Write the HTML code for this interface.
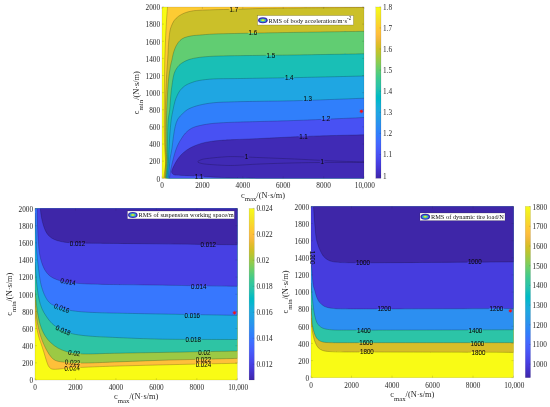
<!DOCTYPE html>
<html><head><meta charset="utf-8"><title>Contour plots</title>
<style>
html,body{margin:0;padding:0;background:#fff;}
svg{display:block;}
text{fill:#262626;}
.tk{font-family:"Liberation Serif",serif;font-size:7.25px;}
.lb{font-family:"Liberation Serif",serif;font-size:8.35px;}
.sb{font-size:6.8px;}
.cl{font-family:"Liberation Sans",sans-serif;font-size:6.9px;fill:#0a0a0a;stroke:#0a0a0a;stroke-width:0.06px;}
.lg{font-family:"Liberation Serif",serif;font-size:7.1px;fill:#111;}
</style></head><body>
<svg width="550" height="407" viewBox="0 0 550 407">
<defs><linearGradient id="pg" x1="0" y1="0" x2="0" y2="1"><stop offset="0.0000" stop-color="#f9fb15"/><stop offset="0.0159" stop-color="#f7f51b"/><stop offset="0.0317" stop-color="#f6ef20"/><stop offset="0.0476" stop-color="#f5e924"/><stop offset="0.0635" stop-color="#f5e327"/><stop offset="0.0794" stop-color="#f7dc2a"/><stop offset="0.0952" stop-color="#fad62d"/><stop offset="0.1111" stop-color="#fccf30"/><stop offset="0.1270" stop-color="#fec934"/><stop offset="0.1429" stop-color="#fec338"/><stop offset="0.1587" stop-color="#febe3c"/><stop offset="0.1746" stop-color="#f8ba3d"/><stop offset="0.1905" stop-color="#f0ba36"/><stop offset="0.2063" stop-color="#e6bb2d"/><stop offset="0.2222" stop-color="#dcbd29"/><stop offset="0.2381" stop-color="#d1bf27"/><stop offset="0.2540" stop-color="#c5c22a"/><stop offset="0.2698" stop-color="#b9c431"/><stop offset="0.2857" stop-color="#abc739"/><stop offset="0.3016" stop-color="#9dc943"/><stop offset="0.3175" stop-color="#8fcb4e"/><stop offset="0.3333" stop-color="#81cc59"/><stop offset="0.3492" stop-color="#72cd64"/><stop offset="0.3651" stop-color="#64cd6f"/><stop offset="0.3810" stop-color="#57cc7a"/><stop offset="0.3968" stop-color="#4acb84"/><stop offset="0.4127" stop-color="#3fca8e"/><stop offset="0.4286" stop-color="#37c897"/><stop offset="0.4444" stop-color="#31c69f"/><stop offset="0.4603" stop-color="#2cc4a7"/><stop offset="0.4762" stop-color="#24c1ae"/><stop offset="0.4921" stop-color="#19bfb6"/><stop offset="0.5079" stop-color="#0bbdbd"/><stop offset="0.5238" stop-color="#02bac3"/><stop offset="0.5397" stop-color="#01b8ca"/><stop offset="0.5556" stop-color="#08b5d0"/><stop offset="0.5714" stop-color="#12b1d6"/><stop offset="0.5873" stop-color="#18addb"/><stop offset="0.6032" stop-color="#1ca9df"/><stop offset="0.6190" stop-color="#20a5e3"/><stop offset="0.6349" stop-color="#23a0e5"/><stop offset="0.6508" stop-color="#259be8"/><stop offset="0.6667" stop-color="#2797eb"/><stop offset="0.6825" stop-color="#2b91ef"/><stop offset="0.6984" stop-color="#2d8cf3"/><stop offset="0.7143" stop-color="#2e87f7"/><stop offset="0.7302" stop-color="#2f81fa"/><stop offset="0.7460" stop-color="#327cfc"/><stop offset="0.7619" stop-color="#3875fe"/><stop offset="0.7778" stop-color="#3e6fff"/><stop offset="0.7937" stop-color="#4269fe"/><stop offset="0.8095" stop-color="#4563fd"/><stop offset="0.8254" stop-color="#465efb"/><stop offset="0.8413" stop-color="#4758f8"/><stop offset="0.8571" stop-color="#4852f4"/><stop offset="0.8730" stop-color="#484df0"/><stop offset="0.8889" stop-color="#4747eb"/><stop offset="0.9048" stop-color="#4741e5"/><stop offset="0.9206" stop-color="#463cde"/><stop offset="0.9365" stop-color="#4537d5"/><stop offset="0.9524" stop-color="#4332cb"/><stop offset="0.9683" stop-color="#422ec0"/><stop offset="0.9841" stop-color="#402ab4"/><stop offset="1.0000" stop-color="#3e26a8"/></linearGradient></defs>
<rect width="550" height="407" fill="#fff"/>
<clipPath id="c1"><rect x="162.00" y="7.00" width="202.00" height="171.30"/></clipPath>
<g clip-path="url(#c1)">
<rect x="157.00" y="2.00" width="212.00" height="181.30" fill="#f9fb15"/>
<path d="M163.70 183.30L163.70 178.30C163.85 177.25 164.32 174.05 164.60 172.00C164.88 169.95 165.25 168.00 165.40 166.00C165.55 164.00 165.60 162.67 165.50 160.00C165.40 157.33 165.00 154.17 164.80 150.00C164.60 145.83 164.40 140.00 164.30 135.00C164.20 130.00 164.20 125.83 164.20 120.00C164.20 114.17 164.25 106.67 164.30 100.00C164.35 93.33 164.42 86.83 164.50 80.00C164.58 73.17 164.63 65.67 164.80 59.00C164.97 52.33 165.23 46.17 165.50 40.00C165.77 33.83 166.07 27.50 166.40 22.00C166.73 16.50 167.32 9.50 167.50 7.00L167.50 2.00L369.00 2.00L369.00 183.30Z" fill="#fdcb33"/>
<path d="M164.60 183.30L164.60 178.30C164.77 176.25 165.40 169.38 165.60 166.00C165.80 162.62 165.82 160.67 165.80 158.00C165.78 155.33 165.60 153.83 165.50 150.00C165.40 146.17 165.25 140.00 165.20 135.00C165.15 130.00 165.13 125.83 165.20 120.00C165.27 114.17 165.42 106.67 165.60 100.00C165.78 93.33 165.95 86.85 166.30 80.00C166.65 73.15 167.33 64.87 167.70 58.90C168.07 52.93 168.17 48.62 168.50 44.20C168.83 39.78 169.25 35.35 169.70 32.40C170.15 29.45 170.47 28.47 171.20 26.50C171.93 24.53 172.87 22.32 174.10 20.60C175.33 18.88 176.87 17.47 178.60 16.20C180.33 14.93 182.30 13.87 184.50 13.00C186.70 12.13 189.35 11.45 191.80 11.00C194.25 10.55 195.52 10.52 199.20 10.30C202.88 10.08 208.02 9.87 213.90 9.70C219.78 9.53 226.82 9.50 234.50 9.30C242.18 9.10 249.08 8.73 260.00 8.50C270.92 8.27 282.63 8.07 300.00 7.90C317.37 7.73 353.50 7.57 364.20 7.50L369.00 7.50L369.00 183.30Z" fill="#cbc029"/>
<path d="M165.40 183.30L165.40 178.30C165.57 176.25 166.20 169.38 166.40 166.00C166.60 162.62 166.62 160.67 166.60 158.00C166.58 155.33 166.37 153.83 166.30 150.00C166.23 146.17 166.18 140.00 166.20 135.00C166.22 130.00 166.23 125.83 166.40 120.00C166.57 114.17 166.85 106.67 167.20 100.00C167.55 93.33 167.95 85.67 168.50 80.00C169.05 74.33 169.93 69.33 170.50 66.00C171.07 62.67 171.48 61.92 171.90 60.00C172.32 58.08 172.50 56.40 173.00 54.50C173.50 52.60 174.22 50.32 174.90 48.60C175.58 46.88 176.25 45.55 177.10 44.20C177.95 42.85 178.77 41.60 180.00 40.50C181.23 39.40 182.53 38.38 184.50 37.60C186.47 36.82 189.35 36.22 191.80 35.80C194.25 35.38 195.52 35.40 199.20 35.10C202.88 34.80 208.02 34.27 213.90 34.00C219.78 33.73 226.82 33.67 234.50 33.50C242.18 33.33 249.08 33.20 260.00 33.00C270.92 32.80 282.63 32.58 300.00 32.30C317.37 32.02 353.50 31.47 364.20 31.30L369.00 31.30L369.00 183.30Z" fill="#61cd72"/>
<path d="M166.20 183.30L166.20 178.30C166.37 176.25 166.98 169.38 167.20 166.00C167.42 162.62 167.47 160.67 167.50 158.00C167.53 155.33 167.38 153.83 167.40 150.00C167.42 146.17 167.47 140.00 167.60 135.00C167.73 130.00 167.85 124.17 168.20 120.00C168.55 115.83 169.25 114.30 169.70 110.00C170.15 105.70 170.45 98.80 170.90 94.20C171.35 89.60 171.87 85.83 172.40 82.40C172.93 78.97 173.32 76.05 174.10 73.60C174.88 71.15 175.87 69.42 177.10 67.70C178.33 65.98 179.53 64.65 181.50 63.30C183.47 61.95 185.95 60.58 188.90 59.60C191.85 58.62 195.03 57.97 199.20 57.40C203.37 56.83 208.02 56.48 213.90 56.20C219.78 55.92 226.82 55.83 234.50 55.70C242.18 55.57 249.08 55.53 260.00 55.40C270.92 55.27 282.63 55.17 300.00 54.90C317.37 54.63 353.50 53.98 364.20 53.80L369.00 53.80L369.00 183.30Z" fill="#19bfb6"/>
<path d="M167.10 183.30L167.10 178.30C167.28 176.25 167.93 169.38 168.20 166.00C168.47 162.62 168.57 160.67 168.70 158.00C168.83 155.33 168.82 153.83 169.00 150.00C169.18 146.17 169.43 140.00 169.80 135.00C170.17 130.00 170.67 124.17 171.20 120.00C171.73 115.83 172.38 113.08 173.00 110.00C173.62 106.92 174.22 103.88 174.90 101.50C175.58 99.12 176.25 97.53 177.10 95.70C177.95 93.87 178.77 92.10 180.00 90.50C181.23 88.90 182.78 87.33 184.50 86.10C186.22 84.87 187.85 84.03 190.30 83.10C192.75 82.17 195.27 81.20 199.20 80.50C203.13 79.80 208.02 79.22 213.90 78.90C219.78 78.58 226.82 78.72 234.50 78.60C242.18 78.48 249.08 78.38 260.00 78.20C270.92 78.02 282.63 77.87 300.00 77.50C317.37 77.13 353.50 76.25 364.20 76.00L369.00 76.00L369.00 183.30Z" fill="#1fa6e2"/>
<path d="M168.20 183.30L168.20 178.30C168.40 176.25 169.07 169.38 169.40 166.00C169.73 162.62 169.78 160.90 170.20 158.00C170.62 155.10 171.37 152.13 171.90 148.60C172.43 145.07 172.85 140.48 173.40 136.80C173.95 133.12 174.47 129.45 175.20 126.50C175.93 123.55 176.50 121.30 177.80 119.10C179.10 116.90 181.15 115.02 183.00 113.30C184.85 111.58 186.20 110.15 188.90 108.80C191.60 107.45 195.03 106.22 199.20 105.20C203.37 104.18 208.02 103.27 213.90 102.70C219.78 102.13 226.82 102.03 234.50 101.80C242.18 101.57 249.08 101.50 260.00 101.30C270.92 101.10 282.63 101.12 300.00 100.60C317.37 100.08 353.50 98.60 364.20 98.20L369.00 98.20L369.00 183.30Z" fill="#307ffb"/>
<path d="M169.50 183.30L169.50 178.30C169.63 177.27 169.92 174.37 170.30 172.10C170.68 169.83 171.25 167.15 171.80 164.70C172.35 162.25 172.93 159.85 173.60 157.40C174.27 154.95 175.02 152.23 175.80 150.00C176.58 147.77 177.35 145.92 178.30 144.00C179.25 142.08 180.30 140.33 181.50 138.50C182.70 136.67 183.83 134.70 185.50 133.00C187.17 131.30 189.08 129.55 191.50 128.30C193.92 127.05 196.27 126.33 200.00 125.50C203.73 124.67 208.15 123.85 213.90 123.30C219.65 122.75 226.82 122.50 234.50 122.20C242.18 121.90 249.08 121.82 260.00 121.50C270.92 121.18 282.63 120.97 300.00 120.30C317.37 119.63 353.50 117.97 364.20 117.50L369.00 117.50L369.00 183.30Z" fill="#4851f3"/>
<path d="M369.00 134.80L364.20 134.80C358.00 134.95 337.70 135.40 327.00 135.70C316.30 136.00 311.17 136.13 300.00 136.60C288.83 137.07 270.92 138.00 260.00 138.50C249.08 139.00 240.95 139.30 234.50 139.60C228.05 139.90 225.22 140.00 221.30 140.30C217.38 140.60 214.22 140.92 211.00 141.40C207.78 141.88 204.92 142.38 202.00 143.20C199.08 144.02 196.08 145.13 193.50 146.30C190.92 147.47 188.55 148.78 186.50 150.20C184.45 151.62 182.75 153.20 181.20 154.80C179.65 156.40 178.33 158.13 177.20 159.80C176.07 161.47 175.18 163.30 174.40 164.80C173.62 166.30 172.97 167.63 172.50 168.80C172.03 169.97 171.60 170.97 171.60 171.80C171.60 172.63 171.93 173.27 172.50 173.80C173.07 174.33 173.42 174.73 175.00 175.00C176.58 175.27 179.17 175.27 182.00 175.40C184.83 175.53 187.92 175.58 192.00 175.80C196.08 176.02 201.62 176.43 206.50 176.70C211.38 176.97 216.63 177.22 221.30 177.40C225.97 177.58 228.88 177.65 234.50 177.80C240.12 177.95 251.58 178.22 255.00 178.30L258.00 183.30L369.00 183.30Z" fill="#402ab5"/>
</g>
<text transform="translate(233.80 10.00) rotate(0.0) scale(0.90 1)" text-anchor="middle" class="cl" y="2.45">1.7</text>
<text transform="translate(252.80 32.80) rotate(0.0) scale(0.90 1)" text-anchor="middle" class="cl" y="2.45">1.6</text>
<text transform="translate(270.80 55.50) rotate(0.0) scale(0.90 1)" text-anchor="middle" class="cl" y="2.45">1.5</text>
<text transform="translate(289.20 77.50) rotate(0.0) scale(0.90 1)" text-anchor="middle" class="cl" y="2.45">1.4</text>
<text transform="translate(307.70 98.80) rotate(0.0) scale(0.90 1)" text-anchor="middle" class="cl" y="2.45">1.3</text>
<text transform="translate(326.00 118.80) rotate(0.0) scale(0.90 1)" text-anchor="middle" class="cl" y="2.45">1.2</text>
<text transform="translate(303.50 136.40) rotate(0.0) scale(0.90 1)" text-anchor="middle" class="cl" y="2.45">1.1</text>
<text transform="translate(246.50 156.50) rotate(0.0) scale(0.90 1)" text-anchor="middle" class="cl" y="2.45">1</text>
<text transform="translate(322.20 161.90) rotate(0.0) scale(0.90 1)" text-anchor="middle" class="cl" y="2.45">1</text>
<text transform="translate(199.00 176.20) rotate(0.0) scale(0.90 1)" text-anchor="middle" class="cl" y="2.45">1.1</text>
<mask id="m1" maskUnits="userSpaceOnUse" x="0" y="0" width="550" height="407"><rect width="550" height="407" fill="#fff"/><rect transform="translate(233.80 10.00) rotate(0.0)" x="-4.92" y="-2.8" width="9.83" height="5.6" fill="#000"/><rect transform="translate(252.80 32.80) rotate(0.0)" x="-4.92" y="-2.8" width="9.83" height="5.6" fill="#000"/><rect transform="translate(270.80 55.50) rotate(0.0)" x="-4.92" y="-2.8" width="9.83" height="5.6" fill="#000"/><rect transform="translate(289.20 77.50) rotate(0.0)" x="-4.92" y="-2.8" width="9.83" height="5.6" fill="#000"/><rect transform="translate(307.70 98.80) rotate(0.0)" x="-4.92" y="-2.8" width="9.83" height="5.6" fill="#000"/><rect transform="translate(326.00 118.80) rotate(0.0)" x="-4.92" y="-2.8" width="9.83" height="5.6" fill="#000"/><rect transform="translate(303.50 136.40) rotate(0.0)" x="-4.92" y="-2.8" width="9.83" height="5.6" fill="#000"/><rect transform="translate(246.50 156.50) rotate(0.0)" x="-2.33" y="-2.8" width="4.65" height="5.6" fill="#000"/><rect transform="translate(322.20 161.90) rotate(0.0)" x="-2.33" y="-2.8" width="4.65" height="5.6" fill="#000"/><rect transform="translate(199.00 176.20) rotate(0.0)" x="-4.92" y="-2.8" width="9.83" height="5.6" fill="#000"/></mask>
<g clip-path="url(#c1)"><g mask="url(#m1)"><path d="M163.70 178.30C163.85 177.25 164.32 174.05 164.60 172.00C164.88 169.95 165.25 168.00 165.40 166.00C165.55 164.00 165.60 162.67 165.50 160.00C165.40 157.33 165.00 154.17 164.80 150.00C164.60 145.83 164.40 140.00 164.30 135.00C164.20 130.00 164.20 125.83 164.20 120.00C164.20 114.17 164.25 106.67 164.30 100.00C164.35 93.33 164.42 86.83 164.50 80.00C164.58 73.17 164.63 65.67 164.80 59.00C164.97 52.33 165.23 46.17 165.50 40.00C165.77 33.83 166.07 27.50 166.40 22.00C166.73 16.50 167.32 9.50 167.50 7.00" stroke="#000" stroke-opacity="0.5" stroke-width="0.4" fill="none"/><path d="M164.60 178.30C164.77 176.25 165.40 169.38 165.60 166.00C165.80 162.62 165.82 160.67 165.80 158.00C165.78 155.33 165.60 153.83 165.50 150.00C165.40 146.17 165.25 140.00 165.20 135.00C165.15 130.00 165.13 125.83 165.20 120.00C165.27 114.17 165.42 106.67 165.60 100.00C165.78 93.33 165.95 86.85 166.30 80.00C166.65 73.15 167.33 64.87 167.70 58.90C168.07 52.93 168.17 48.62 168.50 44.20C168.83 39.78 169.25 35.35 169.70 32.40C170.15 29.45 170.47 28.47 171.20 26.50C171.93 24.53 172.87 22.32 174.10 20.60C175.33 18.88 176.87 17.47 178.60 16.20C180.33 14.93 182.30 13.87 184.50 13.00C186.70 12.13 189.35 11.45 191.80 11.00C194.25 10.55 195.52 10.52 199.20 10.30C202.88 10.08 208.02 9.87 213.90 9.70C219.78 9.53 226.82 9.50 234.50 9.30C242.18 9.10 249.08 8.73 260.00 8.50C270.92 8.27 282.63 8.07 300.00 7.90C317.37 7.73 353.50 7.57 364.20 7.50" stroke="#000" stroke-opacity="0.5" stroke-width="0.4" fill="none"/><path d="M165.40 178.30C165.57 176.25 166.20 169.38 166.40 166.00C166.60 162.62 166.62 160.67 166.60 158.00C166.58 155.33 166.37 153.83 166.30 150.00C166.23 146.17 166.18 140.00 166.20 135.00C166.22 130.00 166.23 125.83 166.40 120.00C166.57 114.17 166.85 106.67 167.20 100.00C167.55 93.33 167.95 85.67 168.50 80.00C169.05 74.33 169.93 69.33 170.50 66.00C171.07 62.67 171.48 61.92 171.90 60.00C172.32 58.08 172.50 56.40 173.00 54.50C173.50 52.60 174.22 50.32 174.90 48.60C175.58 46.88 176.25 45.55 177.10 44.20C177.95 42.85 178.77 41.60 180.00 40.50C181.23 39.40 182.53 38.38 184.50 37.60C186.47 36.82 189.35 36.22 191.80 35.80C194.25 35.38 195.52 35.40 199.20 35.10C202.88 34.80 208.02 34.27 213.90 34.00C219.78 33.73 226.82 33.67 234.50 33.50C242.18 33.33 249.08 33.20 260.00 33.00C270.92 32.80 282.63 32.58 300.00 32.30C317.37 32.02 353.50 31.47 364.20 31.30" stroke="#000" stroke-opacity="0.5" stroke-width="0.4" fill="none"/><path d="M166.20 178.30C166.37 176.25 166.98 169.38 167.20 166.00C167.42 162.62 167.47 160.67 167.50 158.00C167.53 155.33 167.38 153.83 167.40 150.00C167.42 146.17 167.47 140.00 167.60 135.00C167.73 130.00 167.85 124.17 168.20 120.00C168.55 115.83 169.25 114.30 169.70 110.00C170.15 105.70 170.45 98.80 170.90 94.20C171.35 89.60 171.87 85.83 172.40 82.40C172.93 78.97 173.32 76.05 174.10 73.60C174.88 71.15 175.87 69.42 177.10 67.70C178.33 65.98 179.53 64.65 181.50 63.30C183.47 61.95 185.95 60.58 188.90 59.60C191.85 58.62 195.03 57.97 199.20 57.40C203.37 56.83 208.02 56.48 213.90 56.20C219.78 55.92 226.82 55.83 234.50 55.70C242.18 55.57 249.08 55.53 260.00 55.40C270.92 55.27 282.63 55.17 300.00 54.90C317.37 54.63 353.50 53.98 364.20 53.80" stroke="#000" stroke-opacity="0.5" stroke-width="0.4" fill="none"/><path d="M167.10 178.30C167.28 176.25 167.93 169.38 168.20 166.00C168.47 162.62 168.57 160.67 168.70 158.00C168.83 155.33 168.82 153.83 169.00 150.00C169.18 146.17 169.43 140.00 169.80 135.00C170.17 130.00 170.67 124.17 171.20 120.00C171.73 115.83 172.38 113.08 173.00 110.00C173.62 106.92 174.22 103.88 174.90 101.50C175.58 99.12 176.25 97.53 177.10 95.70C177.95 93.87 178.77 92.10 180.00 90.50C181.23 88.90 182.78 87.33 184.50 86.10C186.22 84.87 187.85 84.03 190.30 83.10C192.75 82.17 195.27 81.20 199.20 80.50C203.13 79.80 208.02 79.22 213.90 78.90C219.78 78.58 226.82 78.72 234.50 78.60C242.18 78.48 249.08 78.38 260.00 78.20C270.92 78.02 282.63 77.87 300.00 77.50C317.37 77.13 353.50 76.25 364.20 76.00" stroke="#000" stroke-opacity="0.5" stroke-width="0.4" fill="none"/><path d="M168.20 178.30C168.40 176.25 169.07 169.38 169.40 166.00C169.73 162.62 169.78 160.90 170.20 158.00C170.62 155.10 171.37 152.13 171.90 148.60C172.43 145.07 172.85 140.48 173.40 136.80C173.95 133.12 174.47 129.45 175.20 126.50C175.93 123.55 176.50 121.30 177.80 119.10C179.10 116.90 181.15 115.02 183.00 113.30C184.85 111.58 186.20 110.15 188.90 108.80C191.60 107.45 195.03 106.22 199.20 105.20C203.37 104.18 208.02 103.27 213.90 102.70C219.78 102.13 226.82 102.03 234.50 101.80C242.18 101.57 249.08 101.50 260.00 101.30C270.92 101.10 282.63 101.12 300.00 100.60C317.37 100.08 353.50 98.60 364.20 98.20" stroke="#000" stroke-opacity="0.5" stroke-width="0.4" fill="none"/><path d="M169.50 178.30C169.63 177.27 169.92 174.37 170.30 172.10C170.68 169.83 171.25 167.15 171.80 164.70C172.35 162.25 172.93 159.85 173.60 157.40C174.27 154.95 175.02 152.23 175.80 150.00C176.58 147.77 177.35 145.92 178.30 144.00C179.25 142.08 180.30 140.33 181.50 138.50C182.70 136.67 183.83 134.70 185.50 133.00C187.17 131.30 189.08 129.55 191.50 128.30C193.92 127.05 196.27 126.33 200.00 125.50C203.73 124.67 208.15 123.85 213.90 123.30C219.65 122.75 226.82 122.50 234.50 122.20C242.18 121.90 249.08 121.82 260.00 121.50C270.92 121.18 282.63 120.97 300.00 120.30C317.37 119.63 353.50 117.97 364.20 117.50" stroke="#000" stroke-opacity="0.5" stroke-width="0.4" fill="none"/><path d="M364.20 134.80C358.00 134.95 337.70 135.40 327.00 135.70C316.30 136.00 311.17 136.13 300.00 136.60C288.83 137.07 270.92 138.00 260.00 138.50C249.08 139.00 240.95 139.30 234.50 139.60C228.05 139.90 225.22 140.00 221.30 140.30C217.38 140.60 214.22 140.92 211.00 141.40C207.78 141.88 204.92 142.38 202.00 143.20C199.08 144.02 196.08 145.13 193.50 146.30C190.92 147.47 188.55 148.78 186.50 150.20C184.45 151.62 182.75 153.20 181.20 154.80C179.65 156.40 178.33 158.13 177.20 159.80C176.07 161.47 175.18 163.30 174.40 164.80C173.62 166.30 172.97 167.63 172.50 168.80C172.03 169.97 171.60 170.97 171.60 171.80C171.60 172.63 171.93 173.27 172.50 173.80C173.07 174.33 173.42 174.73 175.00 175.00C176.58 175.27 179.17 175.27 182.00 175.40C184.83 175.53 187.92 175.58 192.00 175.80C196.08 176.02 201.62 176.43 206.50 176.70C211.38 176.97 216.63 177.22 221.30 177.40C225.97 177.58 228.88 177.65 234.50 177.80C240.12 177.95 251.58 178.22 255.00 178.30" stroke="#000" stroke-opacity="0.5" stroke-width="0.4" fill="none"/><path d="M197.70 161.80C197.70 161.22 199.53 160.33 201.00 159.80C202.47 159.27 203.12 159.05 206.50 158.60C209.88 158.15 216.63 157.43 221.30 157.10C225.97 156.77 228.05 156.52 234.50 156.60C240.95 156.68 249.98 157.20 260.00 157.60C270.02 158.00 284.60 158.55 294.60 159.00C304.60 159.45 312.43 159.93 320.00 160.30C327.57 160.67 332.63 160.93 340.00 161.20C347.37 161.47 360.17 161.68 364.20 161.90C368.23 162.12 368.23 162.42 364.20 162.50C360.17 162.58 347.37 162.40 340.00 162.40C332.63 162.40 327.57 162.42 320.00 162.50C312.43 162.58 304.60 162.65 294.60 162.90C284.60 163.15 270.02 163.58 260.00 164.00C249.98 164.42 240.95 165.20 234.50 165.40C228.05 165.60 225.97 165.40 221.30 165.20C216.63 165.00 209.88 164.52 206.50 164.20C203.12 163.88 202.47 163.70 201.00 163.30C199.53 162.90 197.70 162.38 197.70 161.80Z" stroke="#000" stroke-opacity="0.5" stroke-width="0.4" fill="none"/></g></g>
<text x="160.10" y="181.60" text-anchor="end" class="tk">0</text>
<text x="160.10" y="164.47" text-anchor="end" class="tk">200</text>
<text x="160.10" y="147.34" text-anchor="end" class="tk">400</text>
<text x="160.10" y="130.21" text-anchor="end" class="tk">600</text>
<text x="160.10" y="113.08" text-anchor="end" class="tk">800</text>
<text x="160.10" y="95.95" text-anchor="end" class="tk">1000</text>
<text x="160.10" y="78.82" text-anchor="end" class="tk">1200</text>
<text x="160.10" y="61.69" text-anchor="end" class="tk">1400</text>
<text x="160.10" y="44.56" text-anchor="end" class="tk">1600</text>
<text x="160.10" y="27.43" text-anchor="end" class="tk">1800</text>
<text x="160.10" y="10.30" text-anchor="end" class="tk">2000</text>
<text x="162.00" y="188.20" text-anchor="middle" class="tk">0</text>
<text x="202.40" y="188.20" text-anchor="middle" class="tk">2000</text>
<text x="242.80" y="188.20" text-anchor="middle" class="tk">4000</text>
<text x="283.20" y="188.20" text-anchor="middle" class="tk">6000</text>
<text x="323.60" y="188.20" text-anchor="middle" class="tk">8000</text>
<text x="364.80" y="188.20" text-anchor="middle" class="tk">10,000</text>
<path d="M162.00 178.30h2M364.00 178.30h-2M162.00 161.17h2M364.00 161.17h-2M162.00 144.04h2M364.00 144.04h-2M162.00 126.91h2M364.00 126.91h-2M162.00 109.78h2M364.00 109.78h-2M162.00 92.65h2M364.00 92.65h-2M162.00 75.52h2M364.00 75.52h-2M162.00 58.39h2M364.00 58.39h-2M162.00 41.26h2M364.00 41.26h-2M162.00 24.13h2M364.00 24.13h-2M162.00 7.00h2M364.00 7.00h-2M162.00 178.30v-2M162.00 7.00v2M202.40 178.30v-2M202.40 7.00v2M242.80 178.30v-2M242.80 7.00v2M283.20 178.30v-2M283.20 7.00v2M323.60 178.30v-2M323.60 7.00v2M364.00 178.30v-2M364.00 7.00v2" stroke="#222" stroke-opacity="0.35" stroke-width="0.4" fill="none"/>
<rect x="162.00" y="7.00" width="202.00" height="171.30" fill="none" stroke="#222" stroke-opacity="0.25" stroke-width="0.4"/>
<text x="263.00" y="197.60" text-anchor="middle" class="lb">c<tspan class="sb" dy="3.5">max</tspan><tspan dy="-3.5">/(N·s/m)</tspan></text>
<text transform="translate(139.40 92.65) rotate(-90)" text-anchor="middle" class="lb">c<tspan class="sb" dy="3.5">min</tspan><tspan dy="-3.5">/(N·s/m)</tspan></text>
<rect x="375.80" y="7.00" width="5.2" height="171.30" fill="url(#pg)"/>
<rect x="375.80" y="7.00" width="5.2" height="171.30" fill="none" stroke="#222" stroke-opacity="0.25" stroke-width="0.4"/>
<text x="383.10" y="178.55" class="tk">1</text>
<path d="M381.00 175.60h-1.5" stroke="#222" stroke-opacity="0.4" stroke-width="0.4"/>
<text x="383.10" y="157.45" class="tk">1.1</text>
<path d="M381.00 154.50h-1.5" stroke="#222" stroke-opacity="0.4" stroke-width="0.4"/>
<text x="383.10" y="136.35" class="tk">1.2</text>
<path d="M381.00 133.40h-1.5" stroke="#222" stroke-opacity="0.4" stroke-width="0.4"/>
<text x="383.10" y="115.25" class="tk">1.3</text>
<path d="M381.00 112.30h-1.5" stroke="#222" stroke-opacity="0.4" stroke-width="0.4"/>
<text x="383.10" y="94.15" class="tk">1.4</text>
<path d="M381.00 91.20h-1.5" stroke="#222" stroke-opacity="0.4" stroke-width="0.4"/>
<text x="383.10" y="73.05" class="tk">1.5</text>
<path d="M381.00 70.10h-1.5" stroke="#222" stroke-opacity="0.4" stroke-width="0.4"/>
<text x="383.10" y="51.95" class="tk">1.6</text>
<path d="M381.00 49.00h-1.5" stroke="#222" stroke-opacity="0.4" stroke-width="0.4"/>
<text x="383.10" y="30.85" class="tk">1.7</text>
<path d="M381.00 27.90h-1.5" stroke="#222" stroke-opacity="0.4" stroke-width="0.4"/>
<text x="383.10" y="9.75" class="tk">1.8</text>
<path d="M381.00 6.80h-1.5" stroke="#222" stroke-opacity="0.4" stroke-width="0.4"/>
<rect x="257.60" y="15.60" width="95.80" height="9.40" fill="#fff" stroke="#333" stroke-opacity="0.55" stroke-width="0.4"/>
<ellipse cx="262.90" cy="20.30" rx="4.8" ry="2.95" fill="#3a2bb0"/>
<ellipse cx="262.90" cy="20.30" rx="3.4" ry="1.9" fill="#2ea0e0"/>
<ellipse cx="262.90" cy="20.30" rx="2.5" ry="1.3" fill="#5fcf70"/>
<ellipse cx="262.90" cy="20.30" rx="1.5" ry="0.7" fill="#f4e82a"/>
<text transform="translate(268.50 22.75) scale(0.9 1)" class="lg">RMS of body acceleration/m·s<tspan font-size="5.4" dy="-2.9">-2</tspan></text>
<circle cx="361.40" cy="111.30" r="1.35" fill="#f0141e"/>
<path d="M361.40 109.10v4.4M359.20 111.30h4.4M359.90 109.80l3 3M359.90 112.80l3 -3" stroke="#f0141e" stroke-width="0.5" stroke-opacity="0.75"/>
<clipPath id="c2"><rect x="35.00" y="208.50" width="202.30" height="171.50"/></clipPath>
<g clip-path="url(#c2)">
<rect x="30.00" y="203.50" width="212.30" height="181.50" fill="#f9fb15"/>
<path d="M30.00 312.00L35.00 312.00C35.22 314.17 35.72 321.00 36.30 325.00C36.88 329.00 37.68 332.83 38.50 336.00C39.32 339.17 40.32 341.33 41.20 344.00C42.08 346.67 42.97 349.33 43.80 352.00C44.63 354.67 45.47 357.75 46.20 360.00C46.93 362.25 47.48 364.12 48.20 365.50C48.92 366.88 49.53 367.67 50.50 368.30C51.47 368.93 52.02 369.23 54.00 369.30C55.98 369.37 59.03 368.95 62.40 368.70C65.77 368.45 69.78 368.07 74.20 367.80C78.62 367.53 83.02 367.35 88.90 367.10C94.78 366.85 97.98 366.65 109.50 366.30C121.02 365.95 142.92 365.38 158.00 365.00C173.08 364.62 186.78 364.28 200.00 364.00C213.22 363.72 231.08 363.42 237.30 363.30L242.30 363.30L242.30 203.50L30.00 203.50Z" fill="#fec03a"/>
<path d="M30.00 300.00L35.00 300.00C35.17 302.00 35.60 308.17 36.00 312.00C36.40 315.83 36.68 319.17 37.40 323.00C38.12 326.83 39.27 331.50 40.30 335.00C41.33 338.50 42.43 341.27 43.60 344.00C44.77 346.73 46.02 349.20 47.30 351.40C48.58 353.60 49.93 355.68 51.30 357.20C52.67 358.72 53.65 359.70 55.50 360.50C57.35 361.30 59.28 361.58 62.40 362.00C65.52 362.42 69.78 362.83 74.20 363.00C78.62 363.17 83.02 363.13 88.90 363.00C94.78 362.87 97.98 362.63 109.50 362.20C121.02 361.77 142.92 360.88 158.00 360.40C173.08 359.92 186.78 359.63 200.00 359.30C213.22 358.97 231.08 358.55 237.30 358.40L242.30 358.40L242.30 203.50L30.00 203.50Z" fill="#9cc944"/>
<path d="M30.00 290.00L35.00 290.00C35.17 291.67 35.60 296.37 36.00 300.00C36.40 303.63 36.68 307.63 37.40 311.80C38.12 315.97 39.08 321.10 40.30 325.00C41.52 328.90 42.98 332.28 44.70 335.20C46.42 338.12 48.38 340.35 50.60 342.50C52.82 344.65 55.30 346.57 58.00 348.10C60.70 349.63 63.62 350.78 66.80 351.70C69.98 352.62 73.42 353.22 77.10 353.60C80.78 353.98 83.50 354.03 88.90 354.00C94.30 353.97 97.98 353.65 109.50 353.40C121.02 353.15 142.92 352.78 158.00 352.50C173.08 352.22 186.78 351.93 200.00 351.70C213.22 351.47 231.08 351.20 237.30 351.10L242.30 351.10L242.30 203.50L30.00 203.50Z" fill="#2ec4a4"/>
<path d="M30.00 262.00L35.00 262.00C35.20 264.67 35.78 273.33 36.20 278.00C36.62 282.67 37.00 286.33 37.50 290.00C38.00 293.67 38.45 296.87 39.20 300.00C39.95 303.13 40.83 306.10 42.00 308.80C43.17 311.50 44.52 313.73 46.20 316.20C47.88 318.67 49.88 321.52 52.10 323.60C54.32 325.68 56.55 327.12 59.50 328.70C62.45 330.28 66.13 332.00 69.80 333.10C73.47 334.20 77.08 334.72 81.50 335.30C85.92 335.88 91.63 336.28 96.30 336.60C100.97 336.92 102.22 336.88 109.50 337.20C116.78 337.52 129.47 338.15 140.00 338.50C150.53 338.85 156.48 339.13 172.70 339.30C188.92 339.47 226.53 339.47 237.30 339.50L242.30 339.50L242.30 203.50L30.00 203.50Z" fill="#1da8e0"/>
<path d="M30.00 213.00L35.00 213.00C35.13 215.83 35.53 223.83 35.80 230.00C36.07 236.17 36.22 244.22 36.60 250.00C36.98 255.78 37.53 259.78 38.10 264.70C38.67 269.62 39.27 275.32 40.00 279.50C40.73 283.68 41.42 286.58 42.50 289.80C43.58 293.02 45.00 296.40 46.50 298.80C48.00 301.20 49.33 302.73 51.50 304.20C53.67 305.67 56.45 306.58 59.50 307.60C62.55 308.62 66.13 309.60 69.80 310.30C73.47 311.00 77.08 311.42 81.50 311.80C85.92 312.18 91.63 312.40 96.30 312.60C100.97 312.80 100.55 312.80 109.50 313.00C118.45 313.20 134.92 313.52 150.00 313.80C165.08 314.08 185.45 314.45 200.00 314.70C214.55 314.95 231.08 315.20 237.30 315.30L242.30 315.30L242.30 203.50L30.00 203.50Z" fill="#3777fe"/>
<path d="M37.10 203.50L37.10 208.50C37.20 212.00 37.47 223.55 37.70 229.50C37.93 235.45 38.23 240.45 38.50 244.20C38.77 247.95 38.95 249.57 39.30 252.00C39.65 254.43 39.98 256.43 40.60 258.80C41.22 261.17 42.07 263.98 43.00 266.20C43.93 268.42 44.93 270.38 46.20 272.10C47.47 273.82 48.88 275.27 50.60 276.50C52.32 277.73 54.28 278.63 56.50 279.50C58.72 280.37 60.95 281.10 63.90 281.70C66.85 282.30 70.03 282.72 74.20 283.10C78.37 283.48 83.02 283.77 88.90 284.00C94.78 284.23 99.32 284.33 109.50 284.50C119.68 284.67 134.92 284.78 150.00 285.00C165.08 285.22 185.45 285.58 200.00 285.80C214.55 286.02 231.08 286.22 237.30 286.30L242.30 286.30L242.30 203.50Z" fill="#4740e3"/>
<path d="M40.30 203.50L40.30 208.50C40.50 210.03 41.00 214.95 41.50 217.70C42.00 220.45 42.63 222.80 43.30 225.00C43.97 227.20 44.53 229.05 45.50 230.90C46.47 232.75 47.63 234.67 49.10 236.10C50.57 237.53 52.33 238.60 54.30 239.50C56.27 240.40 58.32 240.97 60.90 241.50C63.48 242.03 65.13 242.42 69.80 242.70C74.47 242.98 82.28 243.08 88.90 243.20C95.52 243.32 99.32 243.30 109.50 243.40C119.68 243.50 134.92 243.63 150.00 243.80C165.08 243.97 185.45 244.23 200.00 244.40C214.55 244.57 231.08 244.73 237.30 244.80L242.30 244.80L242.30 203.50Z" fill="#3e26a8"/>
</g>
<text transform="translate(77.50 243.40) rotate(0.0) scale(0.90 1)" text-anchor="middle" class="cl" y="2.45">0.012</text>
<text transform="translate(208.30 245.00) rotate(0.0) scale(0.90 1)" text-anchor="middle" class="cl" y="2.45">0.012</text>
<text transform="translate(68.00 281.70) rotate(10.0) scale(0.90 1)" text-anchor="middle" class="cl" y="2.45">0.014</text>
<text transform="translate(198.70 286.30) rotate(0.0) scale(0.90 1)" text-anchor="middle" class="cl" y="2.45">0.014</text>
<text transform="translate(61.70 308.10) rotate(20.0) scale(0.90 1)" text-anchor="middle" class="cl" y="2.45">0.016</text>
<text transform="translate(192.30 315.60) rotate(0.0) scale(0.90 1)" text-anchor="middle" class="cl" y="2.45">0.016</text>
<text transform="translate(63.10 330.20) rotate(24.0) scale(0.90 1)" text-anchor="middle" class="cl" y="2.45">0.018</text>
<text transform="translate(193.20 339.50) rotate(0.0) scale(0.90 1)" text-anchor="middle" class="cl" y="2.45">0.018</text>
<text transform="translate(74.20 353.00) rotate(10.0) scale(0.90 1)" text-anchor="middle" class="cl" y="2.45">0.02</text>
<text transform="translate(204.40 352.50) rotate(0.0) scale(0.90 1)" text-anchor="middle" class="cl" y="2.45">0.02</text>
<text transform="translate(72.70 362.20) rotate(3.0) scale(0.90 1)" text-anchor="middle" class="cl" y="2.45">0.022</text>
<text transform="translate(203.40 359.20) rotate(0.0) scale(0.90 1)" text-anchor="middle" class="cl" y="2.45">0.022</text>
<text transform="translate(72.00 368.10) rotate(-3.0) scale(0.90 1)" text-anchor="middle" class="cl" y="2.45">0.024</text>
<text transform="translate(203.40 365.00) rotate(0.0) scale(0.90 1)" text-anchor="middle" class="cl" y="2.45">0.024</text>
<mask id="m2" maskUnits="userSpaceOnUse" x="0" y="0" width="550" height="407"><rect width="550" height="407" fill="#fff"/><rect transform="translate(77.50 243.40) rotate(0.0)" x="-8.37" y="-2.8" width="16.74" height="5.6" fill="#000"/><rect transform="translate(208.30 245.00) rotate(0.0)" x="-8.37" y="-2.8" width="16.74" height="5.6" fill="#000"/><rect transform="translate(68.00 281.70) rotate(10.0)" x="-8.37" y="-2.8" width="16.74" height="5.6" fill="#000"/><rect transform="translate(198.70 286.30) rotate(0.0)" x="-8.37" y="-2.8" width="16.74" height="5.6" fill="#000"/><rect transform="translate(61.70 308.10) rotate(20.0)" x="-8.37" y="-2.8" width="16.74" height="5.6" fill="#000"/><rect transform="translate(192.30 315.60) rotate(0.0)" x="-8.37" y="-2.8" width="16.74" height="5.6" fill="#000"/><rect transform="translate(63.10 330.20) rotate(24.0)" x="-8.37" y="-2.8" width="16.74" height="5.6" fill="#000"/><rect transform="translate(193.20 339.50) rotate(0.0)" x="-8.37" y="-2.8" width="16.74" height="5.6" fill="#000"/><rect transform="translate(74.20 353.00) rotate(10.0)" x="-6.64" y="-2.8" width="13.28" height="5.6" fill="#000"/><rect transform="translate(204.40 352.50) rotate(0.0)" x="-6.64" y="-2.8" width="13.28" height="5.6" fill="#000"/><rect transform="translate(72.70 362.20) rotate(3.0)" x="-8.37" y="-2.8" width="16.74" height="5.6" fill="#000"/><rect transform="translate(203.40 359.20) rotate(0.0)" x="-8.37" y="-2.8" width="16.74" height="5.6" fill="#000"/><rect transform="translate(72.00 368.10) rotate(-3.0)" x="-8.37" y="-2.8" width="16.74" height="5.6" fill="#000"/><rect transform="translate(203.40 365.00) rotate(0.0)" x="-8.37" y="-2.8" width="16.74" height="5.6" fill="#000"/></mask>
<g clip-path="url(#c2)"><g mask="url(#m2)"><path d="M35.00 312.00C35.22 314.17 35.72 321.00 36.30 325.00C36.88 329.00 37.68 332.83 38.50 336.00C39.32 339.17 40.32 341.33 41.20 344.00C42.08 346.67 42.97 349.33 43.80 352.00C44.63 354.67 45.47 357.75 46.20 360.00C46.93 362.25 47.48 364.12 48.20 365.50C48.92 366.88 49.53 367.67 50.50 368.30C51.47 368.93 52.02 369.23 54.00 369.30C55.98 369.37 59.03 368.95 62.40 368.70C65.77 368.45 69.78 368.07 74.20 367.80C78.62 367.53 83.02 367.35 88.90 367.10C94.78 366.85 97.98 366.65 109.50 366.30C121.02 365.95 142.92 365.38 158.00 365.00C173.08 364.62 186.78 364.28 200.00 364.00C213.22 363.72 231.08 363.42 237.30 363.30" stroke="#000" stroke-opacity="0.5" stroke-width="0.4" fill="none"/><path d="M35.00 300.00C35.17 302.00 35.60 308.17 36.00 312.00C36.40 315.83 36.68 319.17 37.40 323.00C38.12 326.83 39.27 331.50 40.30 335.00C41.33 338.50 42.43 341.27 43.60 344.00C44.77 346.73 46.02 349.20 47.30 351.40C48.58 353.60 49.93 355.68 51.30 357.20C52.67 358.72 53.65 359.70 55.50 360.50C57.35 361.30 59.28 361.58 62.40 362.00C65.52 362.42 69.78 362.83 74.20 363.00C78.62 363.17 83.02 363.13 88.90 363.00C94.78 362.87 97.98 362.63 109.50 362.20C121.02 361.77 142.92 360.88 158.00 360.40C173.08 359.92 186.78 359.63 200.00 359.30C213.22 358.97 231.08 358.55 237.30 358.40" stroke="#000" stroke-opacity="0.5" stroke-width="0.4" fill="none"/><path d="M35.00 290.00C35.17 291.67 35.60 296.37 36.00 300.00C36.40 303.63 36.68 307.63 37.40 311.80C38.12 315.97 39.08 321.10 40.30 325.00C41.52 328.90 42.98 332.28 44.70 335.20C46.42 338.12 48.38 340.35 50.60 342.50C52.82 344.65 55.30 346.57 58.00 348.10C60.70 349.63 63.62 350.78 66.80 351.70C69.98 352.62 73.42 353.22 77.10 353.60C80.78 353.98 83.50 354.03 88.90 354.00C94.30 353.97 97.98 353.65 109.50 353.40C121.02 353.15 142.92 352.78 158.00 352.50C173.08 352.22 186.78 351.93 200.00 351.70C213.22 351.47 231.08 351.20 237.30 351.10" stroke="#000" stroke-opacity="0.5" stroke-width="0.4" fill="none"/><path d="M35.00 262.00C35.20 264.67 35.78 273.33 36.20 278.00C36.62 282.67 37.00 286.33 37.50 290.00C38.00 293.67 38.45 296.87 39.20 300.00C39.95 303.13 40.83 306.10 42.00 308.80C43.17 311.50 44.52 313.73 46.20 316.20C47.88 318.67 49.88 321.52 52.10 323.60C54.32 325.68 56.55 327.12 59.50 328.70C62.45 330.28 66.13 332.00 69.80 333.10C73.47 334.20 77.08 334.72 81.50 335.30C85.92 335.88 91.63 336.28 96.30 336.60C100.97 336.92 102.22 336.88 109.50 337.20C116.78 337.52 129.47 338.15 140.00 338.50C150.53 338.85 156.48 339.13 172.70 339.30C188.92 339.47 226.53 339.47 237.30 339.50" stroke="#000" stroke-opacity="0.5" stroke-width="0.4" fill="none"/><path d="M35.00 213.00C35.13 215.83 35.53 223.83 35.80 230.00C36.07 236.17 36.22 244.22 36.60 250.00C36.98 255.78 37.53 259.78 38.10 264.70C38.67 269.62 39.27 275.32 40.00 279.50C40.73 283.68 41.42 286.58 42.50 289.80C43.58 293.02 45.00 296.40 46.50 298.80C48.00 301.20 49.33 302.73 51.50 304.20C53.67 305.67 56.45 306.58 59.50 307.60C62.55 308.62 66.13 309.60 69.80 310.30C73.47 311.00 77.08 311.42 81.50 311.80C85.92 312.18 91.63 312.40 96.30 312.60C100.97 312.80 100.55 312.80 109.50 313.00C118.45 313.20 134.92 313.52 150.00 313.80C165.08 314.08 185.45 314.45 200.00 314.70C214.55 314.95 231.08 315.20 237.30 315.30" stroke="#000" stroke-opacity="0.5" stroke-width="0.4" fill="none"/><path d="M37.10 208.50C37.20 212.00 37.47 223.55 37.70 229.50C37.93 235.45 38.23 240.45 38.50 244.20C38.77 247.95 38.95 249.57 39.30 252.00C39.65 254.43 39.98 256.43 40.60 258.80C41.22 261.17 42.07 263.98 43.00 266.20C43.93 268.42 44.93 270.38 46.20 272.10C47.47 273.82 48.88 275.27 50.60 276.50C52.32 277.73 54.28 278.63 56.50 279.50C58.72 280.37 60.95 281.10 63.90 281.70C66.85 282.30 70.03 282.72 74.20 283.10C78.37 283.48 83.02 283.77 88.90 284.00C94.78 284.23 99.32 284.33 109.50 284.50C119.68 284.67 134.92 284.78 150.00 285.00C165.08 285.22 185.45 285.58 200.00 285.80C214.55 286.02 231.08 286.22 237.30 286.30" stroke="#000" stroke-opacity="0.5" stroke-width="0.4" fill="none"/><path d="M40.30 208.50C40.50 210.03 41.00 214.95 41.50 217.70C42.00 220.45 42.63 222.80 43.30 225.00C43.97 227.20 44.53 229.05 45.50 230.90C46.47 232.75 47.63 234.67 49.10 236.10C50.57 237.53 52.33 238.60 54.30 239.50C56.27 240.40 58.32 240.97 60.90 241.50C63.48 242.03 65.13 242.42 69.80 242.70C74.47 242.98 82.28 243.08 88.90 243.20C95.52 243.32 99.32 243.30 109.50 243.40C119.68 243.50 134.92 243.63 150.00 243.80C165.08 243.97 185.45 244.23 200.00 244.40C214.55 244.57 231.08 244.73 237.30 244.80" stroke="#000" stroke-opacity="0.5" stroke-width="0.4" fill="none"/></g></g>
<text x="33.10" y="383.30" text-anchor="end" class="tk">0</text>
<text x="33.10" y="366.15" text-anchor="end" class="tk">200</text>
<text x="33.10" y="349.00" text-anchor="end" class="tk">400</text>
<text x="33.10" y="331.85" text-anchor="end" class="tk">600</text>
<text x="33.10" y="314.70" text-anchor="end" class="tk">800</text>
<text x="33.10" y="297.55" text-anchor="end" class="tk">1000</text>
<text x="33.10" y="280.40" text-anchor="end" class="tk">1200</text>
<text x="33.10" y="263.25" text-anchor="end" class="tk">1400</text>
<text x="33.10" y="246.10" text-anchor="end" class="tk">1600</text>
<text x="33.10" y="228.95" text-anchor="end" class="tk">1800</text>
<text x="33.10" y="211.80" text-anchor="end" class="tk">2000</text>
<text x="35.00" y="389.90" text-anchor="middle" class="tk">0</text>
<text x="75.46" y="389.90" text-anchor="middle" class="tk">2000</text>
<text x="115.92" y="389.90" text-anchor="middle" class="tk">4000</text>
<text x="156.38" y="389.90" text-anchor="middle" class="tk">6000</text>
<text x="196.84" y="389.90" text-anchor="middle" class="tk">8000</text>
<text x="238.10" y="389.90" text-anchor="middle" class="tk">10,000</text>
<path d="M35.00 380.00h2M237.30 380.00h-2M35.00 362.85h2M237.30 362.85h-2M35.00 345.70h2M237.30 345.70h-2M35.00 328.55h2M237.30 328.55h-2M35.00 311.40h2M237.30 311.40h-2M35.00 294.25h2M237.30 294.25h-2M35.00 277.10h2M237.30 277.10h-2M35.00 259.95h2M237.30 259.95h-2M35.00 242.80h2M237.30 242.80h-2M35.00 225.65h2M237.30 225.65h-2M35.00 208.50h2M237.30 208.50h-2M35.00 380.00v-2M35.00 208.50v2M75.46 380.00v-2M75.46 208.50v2M115.92 380.00v-2M115.92 208.50v2M156.38 380.00v-2M156.38 208.50v2M196.84 380.00v-2M196.84 208.50v2M237.30 380.00v-2M237.30 208.50v2" stroke="#222" stroke-opacity="0.35" stroke-width="0.4" fill="none"/>
<rect x="35.00" y="208.50" width="202.30" height="171.50" fill="none" stroke="#222" stroke-opacity="0.25" stroke-width="0.4"/>
<text x="136.15" y="399.30" text-anchor="middle" class="lb">c<tspan class="sb" dy="3.5">max</tspan><tspan dy="-3.5">/(N·s/m)</tspan></text>
<text transform="translate(12.40 294.25) rotate(-90)" text-anchor="middle" class="lb">c<tspan class="sb" dy="3.5">min</tspan><tspan dy="-3.5">/(N·s/m)</tspan></text>
<rect x="249.10" y="208.50" width="5.2" height="171.50" fill="url(#pg)"/>
<rect x="249.10" y="208.50" width="5.2" height="171.50" fill="none" stroke="#222" stroke-opacity="0.25" stroke-width="0.4"/>
<text x="256.40" y="367.25" class="tk">0.012</text>
<path d="M254.30 364.30h-1.5" stroke="#222" stroke-opacity="0.4" stroke-width="0.4"/>
<text x="256.40" y="341.25" class="tk">0.014</text>
<path d="M254.30 338.30h-1.5" stroke="#222" stroke-opacity="0.4" stroke-width="0.4"/>
<text x="256.40" y="315.25" class="tk">0.016</text>
<path d="M254.30 312.30h-1.5" stroke="#222" stroke-opacity="0.4" stroke-width="0.4"/>
<text x="256.40" y="289.25" class="tk">0.018</text>
<path d="M254.30 286.30h-1.5" stroke="#222" stroke-opacity="0.4" stroke-width="0.4"/>
<text x="256.40" y="263.25" class="tk">0.02</text>
<path d="M254.30 260.30h-1.5" stroke="#222" stroke-opacity="0.4" stroke-width="0.4"/>
<text x="256.40" y="237.25" class="tk">0.022</text>
<path d="M254.30 234.30h-1.5" stroke="#222" stroke-opacity="0.4" stroke-width="0.4"/>
<text x="256.40" y="211.25" class="tk">0.024</text>
<path d="M254.30 208.30h-1.5" stroke="#222" stroke-opacity="0.4" stroke-width="0.4"/>
<rect x="127.50" y="211.00" width="106.80" height="7.90" fill="#fff" stroke="#333" stroke-opacity="0.55" stroke-width="0.4"/>
<ellipse cx="132.80" cy="214.95" rx="4.8" ry="2.95" fill="#3a2bb0"/>
<ellipse cx="132.80" cy="214.95" rx="3.4" ry="1.9" fill="#2ea0e0"/>
<ellipse cx="132.80" cy="214.95" rx="2.5" ry="1.3" fill="#5fcf70"/>
<ellipse cx="132.80" cy="214.95" rx="1.5" ry="0.7" fill="#f4e82a"/>
<text transform="translate(138.40 217.40) scale(0.9 1)" class="lg">RMS of suspension working space/m</text>
<circle cx="234.50" cy="312.80" r="1.35" fill="#f0141e"/>
<path d="M234.50 310.60v4.4M232.30 312.80h4.4M233.00 311.30l3 3M233.00 314.30l3 -3" stroke="#f0141e" stroke-width="0.5" stroke-opacity="0.75"/>
<clipPath id="c3"><rect x="311.00" y="206.40" width="202.50" height="171.30"/></clipPath>
<g clip-path="url(#c3)">
<rect x="306.00" y="201.40" width="212.50" height="181.30" fill="#f9fb15"/>
<path d="M306.00 318.00L311.00 318.00C311.10 319.17 311.25 322.12 311.60 325.00C311.95 327.88 312.48 332.35 313.10 335.30C313.72 338.25 314.43 340.62 315.30 342.70C316.17 344.78 317.07 346.50 318.30 347.80C319.53 349.10 320.75 349.87 322.70 350.50C324.65 351.13 326.28 351.35 330.00 351.60C333.72 351.85 335.92 351.92 345.00 352.00C354.08 352.08 356.42 352.03 384.50 352.10C412.58 352.17 492.00 352.35 513.50 352.40L518.50 352.40L518.50 201.40L306.00 201.40Z" fill="#d7be28"/>
<path d="M306.00 305.00L311.00 305.00C311.10 306.67 311.37 311.67 311.60 315.00C311.83 318.33 311.98 322.10 312.40 325.00C312.82 327.90 313.37 330.18 314.10 332.40C314.83 334.62 315.62 336.78 316.80 338.30C317.98 339.82 319.23 340.78 321.20 341.50C323.17 342.22 324.63 342.40 328.60 342.60C332.57 342.80 333.10 342.68 345.00 342.70C356.90 342.72 371.92 342.70 400.00 342.70C428.08 342.70 494.58 342.70 513.50 342.70L518.50 342.70L518.50 201.40L306.00 201.40Z" fill="#2cc4a7"/>
<path d="M306.00 283.00L311.00 283.00C311.10 284.17 311.25 286.38 311.60 290.00C311.95 293.62 312.60 300.53 313.10 304.70C313.60 308.87 313.98 312.05 314.60 315.00C315.22 317.95 315.82 320.43 316.80 322.40C317.78 324.37 319.03 325.70 320.50 326.80C321.97 327.90 323.27 328.47 325.60 329.00C327.93 329.53 330.43 329.82 334.50 330.00C338.57 330.18 339.08 330.08 350.00 330.10C360.92 330.12 372.75 330.15 400.00 330.10C427.25 330.05 494.58 329.85 513.50 329.80L518.50 329.80L518.50 201.40L306.00 201.40Z" fill="#2c8ff1"/>
<path d="M306.00 262.00L311.00 262.00C311.13 263.33 311.45 266.30 311.80 270.00C312.15 273.70 312.63 280.87 313.10 284.20C313.57 287.53 313.98 287.80 314.60 290.00C315.22 292.20 315.95 295.32 316.80 297.40C317.65 299.48 318.48 301.03 319.70 302.50C320.92 303.97 322.38 305.28 324.10 306.20C325.82 307.12 327.53 307.57 330.00 308.00C332.47 308.43 333.90 308.65 338.90 308.80C343.90 308.95 349.82 308.88 360.00 308.90C370.18 308.92 374.42 308.95 400.00 308.90C425.58 308.85 494.58 308.65 513.50 308.60L518.50 308.60L518.50 201.40L306.00 201.40Z" fill="#463cde"/>
<path d="M313.50 201.40L313.50 206.40C313.68 209.02 314.18 217.03 314.60 222.10C315.02 227.17 315.48 233.15 316.00 236.80C316.52 240.45 317.08 241.88 317.70 244.00C318.32 246.12 318.75 247.47 319.70 249.50C320.65 251.53 321.92 254.40 323.40 256.20C324.88 258.00 326.52 259.32 328.60 260.30C330.68 261.28 332.47 261.70 335.90 262.10C339.33 262.50 341.10 262.60 349.20 262.70C357.30 262.80 357.12 262.83 384.50 262.70C411.88 262.57 492.00 262.03 513.50 261.90L518.50 261.90L518.50 201.40Z" fill="#3e26a8"/>
</g>
<text transform="translate(363.00 262.80) rotate(0.0) scale(0.90 1)" text-anchor="middle" class="cl" y="2.45">1000</text>
<text transform="translate(474.80 261.80) rotate(0.0) scale(0.90 1)" text-anchor="middle" class="cl" y="2.45">1000</text>
<text transform="translate(384.30 308.90) rotate(0.0) scale(0.90 1)" text-anchor="middle" class="cl" y="2.45">1200</text>
<text transform="translate(496.40 308.80) rotate(0.0) scale(0.90 1)" text-anchor="middle" class="cl" y="2.45">1200</text>
<text transform="translate(363.90 330.10) rotate(0.0) scale(0.90 1)" text-anchor="middle" class="cl" y="2.45">1400</text>
<text transform="translate(475.40 330.20) rotate(0.0) scale(0.90 1)" text-anchor="middle" class="cl" y="2.45">1400</text>
<text transform="translate(366.10 342.90) rotate(0.0) scale(0.90 1)" text-anchor="middle" class="cl" y="2.45">1600</text>
<text transform="translate(477.40 343.20) rotate(0.0) scale(0.90 1)" text-anchor="middle" class="cl" y="2.45">1600</text>
<text transform="translate(366.90 351.80) rotate(0.0) scale(0.90 1)" text-anchor="middle" class="cl" y="2.45">1800</text>
<text transform="translate(478.50 352.80) rotate(0.0) scale(0.90 1)" text-anchor="middle" class="cl" y="2.45">1800</text>
<text transform="translate(312.80 257.60) rotate(90.0) scale(0.90 1)" text-anchor="middle" class="cl" y="2.45">1200</text>
<mask id="m3" maskUnits="userSpaceOnUse" x="0" y="0" width="550" height="407"><rect width="550" height="407" fill="#fff"/><rect transform="translate(363.00 262.80) rotate(0.0)" x="-7.51" y="-2.8" width="15.01" height="5.6" fill="#000"/><rect transform="translate(474.80 261.80) rotate(0.0)" x="-7.51" y="-2.8" width="15.01" height="5.6" fill="#000"/><rect transform="translate(384.30 308.90) rotate(0.0)" x="-7.51" y="-2.8" width="15.01" height="5.6" fill="#000"/><rect transform="translate(496.40 308.80) rotate(0.0)" x="-7.51" y="-2.8" width="15.01" height="5.6" fill="#000"/><rect transform="translate(363.90 330.10) rotate(0.0)" x="-7.51" y="-2.8" width="15.01" height="5.6" fill="#000"/><rect transform="translate(475.40 330.20) rotate(0.0)" x="-7.51" y="-2.8" width="15.01" height="5.6" fill="#000"/><rect transform="translate(366.10 342.90) rotate(0.0)" x="-7.51" y="-2.8" width="15.01" height="5.6" fill="#000"/><rect transform="translate(477.40 343.20) rotate(0.0)" x="-7.51" y="-2.8" width="15.01" height="5.6" fill="#000"/><rect transform="translate(366.90 351.80) rotate(0.0)" x="-7.51" y="-2.8" width="15.01" height="5.6" fill="#000"/><rect transform="translate(478.50 352.80) rotate(0.0)" x="-7.51" y="-2.8" width="15.01" height="5.6" fill="#000"/><rect transform="translate(312.80 257.60) rotate(90.0)" x="-7.51" y="-2.8" width="15.01" height="5.6" fill="#000"/></mask>
<g clip-path="url(#c3)"><g mask="url(#m3)"><path d="M311.00 318.00C311.10 319.17 311.25 322.12 311.60 325.00C311.95 327.88 312.48 332.35 313.10 335.30C313.72 338.25 314.43 340.62 315.30 342.70C316.17 344.78 317.07 346.50 318.30 347.80C319.53 349.10 320.75 349.87 322.70 350.50C324.65 351.13 326.28 351.35 330.00 351.60C333.72 351.85 335.92 351.92 345.00 352.00C354.08 352.08 356.42 352.03 384.50 352.10C412.58 352.17 492.00 352.35 513.50 352.40" stroke="#000" stroke-opacity="0.5" stroke-width="0.4" fill="none"/><path d="M311.00 305.00C311.10 306.67 311.37 311.67 311.60 315.00C311.83 318.33 311.98 322.10 312.40 325.00C312.82 327.90 313.37 330.18 314.10 332.40C314.83 334.62 315.62 336.78 316.80 338.30C317.98 339.82 319.23 340.78 321.20 341.50C323.17 342.22 324.63 342.40 328.60 342.60C332.57 342.80 333.10 342.68 345.00 342.70C356.90 342.72 371.92 342.70 400.00 342.70C428.08 342.70 494.58 342.70 513.50 342.70" stroke="#000" stroke-opacity="0.5" stroke-width="0.4" fill="none"/><path d="M311.00 283.00C311.10 284.17 311.25 286.38 311.60 290.00C311.95 293.62 312.60 300.53 313.10 304.70C313.60 308.87 313.98 312.05 314.60 315.00C315.22 317.95 315.82 320.43 316.80 322.40C317.78 324.37 319.03 325.70 320.50 326.80C321.97 327.90 323.27 328.47 325.60 329.00C327.93 329.53 330.43 329.82 334.50 330.00C338.57 330.18 339.08 330.08 350.00 330.10C360.92 330.12 372.75 330.15 400.00 330.10C427.25 330.05 494.58 329.85 513.50 329.80" stroke="#000" stroke-opacity="0.5" stroke-width="0.4" fill="none"/><path d="M311.00 262.00C311.13 263.33 311.45 266.30 311.80 270.00C312.15 273.70 312.63 280.87 313.10 284.20C313.57 287.53 313.98 287.80 314.60 290.00C315.22 292.20 315.95 295.32 316.80 297.40C317.65 299.48 318.48 301.03 319.70 302.50C320.92 303.97 322.38 305.28 324.10 306.20C325.82 307.12 327.53 307.57 330.00 308.00C332.47 308.43 333.90 308.65 338.90 308.80C343.90 308.95 349.82 308.88 360.00 308.90C370.18 308.92 374.42 308.95 400.00 308.90C425.58 308.85 494.58 308.65 513.50 308.60" stroke="#000" stroke-opacity="0.5" stroke-width="0.4" fill="none"/><path d="M313.50 206.40C313.68 209.02 314.18 217.03 314.60 222.10C315.02 227.17 315.48 233.15 316.00 236.80C316.52 240.45 317.08 241.88 317.70 244.00C318.32 246.12 318.75 247.47 319.70 249.50C320.65 251.53 321.92 254.40 323.40 256.20C324.88 258.00 326.52 259.32 328.60 260.30C330.68 261.28 332.47 261.70 335.90 262.10C339.33 262.50 341.10 262.60 349.20 262.70C357.30 262.80 357.12 262.83 384.50 262.70C411.88 262.57 492.00 262.03 513.50 261.90" stroke="#000" stroke-opacity="0.5" stroke-width="0.4" fill="none"/></g></g>
<text x="309.10" y="381.00" text-anchor="end" class="tk">0</text>
<text x="309.10" y="363.87" text-anchor="end" class="tk">200</text>
<text x="309.10" y="346.74" text-anchor="end" class="tk">400</text>
<text x="309.10" y="329.61" text-anchor="end" class="tk">600</text>
<text x="309.10" y="312.48" text-anchor="end" class="tk">800</text>
<text x="309.10" y="295.35" text-anchor="end" class="tk">1000</text>
<text x="309.10" y="278.22" text-anchor="end" class="tk">1200</text>
<text x="309.10" y="261.09" text-anchor="end" class="tk">1400</text>
<text x="309.10" y="243.96" text-anchor="end" class="tk">1600</text>
<text x="309.10" y="226.83" text-anchor="end" class="tk">1800</text>
<text x="309.10" y="209.70" text-anchor="end" class="tk">2000</text>
<text x="311.00" y="387.60" text-anchor="middle" class="tk">0</text>
<text x="351.50" y="387.60" text-anchor="middle" class="tk">2000</text>
<text x="392.00" y="387.60" text-anchor="middle" class="tk">4000</text>
<text x="432.50" y="387.60" text-anchor="middle" class="tk">6000</text>
<text x="473.00" y="387.60" text-anchor="middle" class="tk">8000</text>
<text x="514.30" y="387.60" text-anchor="middle" class="tk">10,000</text>
<path d="M311.00 377.70h2M513.50 377.70h-2M311.00 360.57h2M513.50 360.57h-2M311.00 343.44h2M513.50 343.44h-2M311.00 326.31h2M513.50 326.31h-2M311.00 309.18h2M513.50 309.18h-2M311.00 292.05h2M513.50 292.05h-2M311.00 274.92h2M513.50 274.92h-2M311.00 257.79h2M513.50 257.79h-2M311.00 240.66h2M513.50 240.66h-2M311.00 223.53h2M513.50 223.53h-2M311.00 206.40h2M513.50 206.40h-2M311.00 377.70v-2M311.00 206.40v2M351.50 377.70v-2M351.50 206.40v2M392.00 377.70v-2M392.00 206.40v2M432.50 377.70v-2M432.50 206.40v2M473.00 377.70v-2M473.00 206.40v2M513.50 377.70v-2M513.50 206.40v2" stroke="#222" stroke-opacity="0.35" stroke-width="0.4" fill="none"/>
<rect x="311.00" y="206.40" width="202.50" height="171.30" fill="none" stroke="#222" stroke-opacity="0.25" stroke-width="0.4"/>
<text x="412.25" y="397.00" text-anchor="middle" class="lb">c<tspan class="sb" dy="3.5">max</tspan><tspan dy="-3.5">/(N·s/m)</tspan></text>
<text transform="translate(288.40 292.05) rotate(-90)" text-anchor="middle" class="lb">c<tspan class="sb" dy="3.5">min</tspan><tspan dy="-3.5">/(N·s/m)</tspan></text>
<rect x="525.30" y="206.40" width="5.2" height="171.30" fill="url(#pg)"/>
<rect x="525.30" y="206.40" width="5.2" height="171.30" fill="none" stroke="#222" stroke-opacity="0.25" stroke-width="0.4"/>
<text x="532.60" y="367.15" class="tk">1000</text>
<path d="M530.50 364.20h-1.5" stroke="#222" stroke-opacity="0.4" stroke-width="0.4"/>
<text x="532.60" y="347.45" class="tk">1100</text>
<path d="M530.50 344.50h-1.5" stroke="#222" stroke-opacity="0.4" stroke-width="0.4"/>
<text x="532.60" y="327.75" class="tk">1200</text>
<path d="M530.50 324.80h-1.5" stroke="#222" stroke-opacity="0.4" stroke-width="0.4"/>
<text x="532.60" y="308.05" class="tk">1300</text>
<path d="M530.50 305.10h-1.5" stroke="#222" stroke-opacity="0.4" stroke-width="0.4"/>
<text x="532.60" y="288.35" class="tk">1400</text>
<path d="M530.50 285.40h-1.5" stroke="#222" stroke-opacity="0.4" stroke-width="0.4"/>
<text x="532.60" y="268.65" class="tk">1500</text>
<path d="M530.50 265.70h-1.5" stroke="#222" stroke-opacity="0.4" stroke-width="0.4"/>
<text x="532.60" y="248.95" class="tk">1600</text>
<path d="M530.50 246.00h-1.5" stroke="#222" stroke-opacity="0.4" stroke-width="0.4"/>
<text x="532.60" y="229.25" class="tk">1700</text>
<path d="M530.50 226.30h-1.5" stroke="#222" stroke-opacity="0.4" stroke-width="0.4"/>
<text x="532.60" y="209.55" class="tk">1800</text>
<path d="M530.50 206.60h-1.5" stroke="#222" stroke-opacity="0.4" stroke-width="0.4"/>
<rect x="420.00" y="213.00" width="85.00" height="7.60" fill="#fff" stroke="#333" stroke-opacity="0.55" stroke-width="0.4"/>
<ellipse cx="425.30" cy="216.80" rx="4.8" ry="2.95" fill="#3a2bb0"/>
<ellipse cx="425.30" cy="216.80" rx="3.4" ry="1.9" fill="#2ea0e0"/>
<ellipse cx="425.30" cy="216.80" rx="2.5" ry="1.3" fill="#5fcf70"/>
<ellipse cx="425.30" cy="216.80" rx="1.5" ry="0.7" fill="#f4e82a"/>
<text transform="translate(430.90 219.25) scale(0.9 1)" class="lg">RMS of dynamic tire load/N</text>
<circle cx="510.40" cy="310.80" r="1.35" fill="#f0141e"/>
<path d="M510.40 308.60v4.4M508.20 310.80h4.4M508.90 309.30l3 3M508.90 312.30l3 -3" stroke="#f0141e" stroke-width="0.5" stroke-opacity="0.75"/>
</svg>
</body></html>
